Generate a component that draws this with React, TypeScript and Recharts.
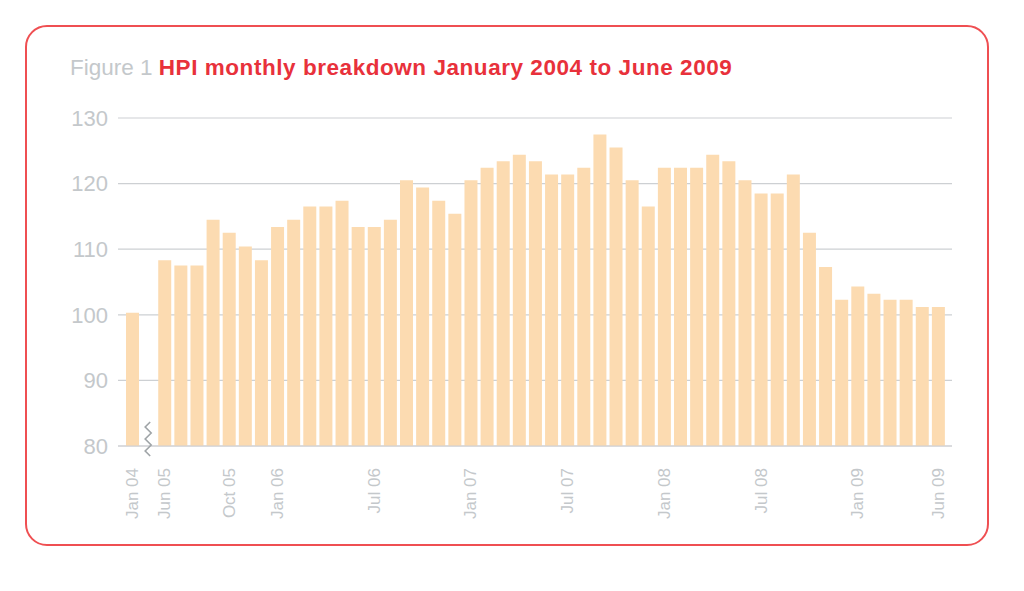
import { BarChart, Bar, CartesianGrid, XAxis, YAxis } from "recharts"

// month labels; the empty slot after Jan 04 is the axis break
const months = [
  "Jan 04", "",
  "Jun 05", "Jul 05", "Aug 05", "Sep 05", "Oct 05", "Nov 05", "Dec 05",
  "Jan 06", "Feb 06", "Mar 06", "Apr 06", "May 06", "Jun 06", "Jul 06", "Aug 06", "Sep 06", "Oct 06", "Nov 06", "Dec 06",
  "Jan 07", "Feb 07", "Mar 07", "Apr 07", "May 07", "Jun 07", "Jul 07", "Aug 07", "Sep 07", "Oct 07", "Nov 07", "Dec 07",
  "Jan 08", "Feb 08", "Mar 08", "Apr 08", "May 08", "Jun 08", "Jul 08", "Aug 08", "Sep 08", "Oct 08", "Nov 08", "Dec 08",
  "Jan 09", "Feb 09", "Mar 09", "Apr 09", "May 09", "Jun 09",
]

const hpi = [
  100.3, null,
  108.3, 107.5, 107.5, 114.5, 112.5, 110.4, 108.3,
  113.4, 114.5, 116.5, 116.5, 117.4, 113.4, 113.4, 114.5, 120.5, 119.4, 117.4, 115.4,
  120.5, 122.4, 123.4, 124.4, 123.4, 121.4, 121.4, 122.4, 127.5, 125.5, 120.5, 116.5,
  122.4, 122.4, 122.4, 124.4, 123.4, 120.5, 118.5, 118.5, 121.4, 112.5, 107.3, 102.3,
  104.3, 103.2, 102.3, 102.3, 101.2, 101.2,
]

const shownLabels = [
  "Jan 04", "Jun 05", "Oct 05", "Jan 06", "Jul 06", "Jan 07",
  "Jul 07", "Jan 08", "Jul 08", "Jan 09", "Jun 09",
]

const yTicks = [80, 90, 100, 110, 120, 130]

const data = months.map((month, i) => ({ month, hpi: hpi[i] }))

const GREY = "#c4c8cb"
const FONT = "'Liberation Sans', Arial, sans-serif"

function MonthTick({ x, y, payload }: any) {
  const value = payload?.value
  if (value === "") {
    // zigzag break marker
    const pts = [
      [x + 2, y - 24], [x - 3, y - 19], [x + 3, y - 13], [x - 3, y - 7],
      [x + 3, y - 1], [x - 3, y + 5], [x + 2, y + 10],
    ]
    return (
      <polyline
        points={pts.map((p) => p.join(",")).join(" ")}
        fill="none"
        stroke="#9fa4a7"
        strokeWidth={1.6}
      />
    )
  }
  if (!shownLabels.includes(value)) return null
  const ty = y + 22
  return (
    <text
      x={x}
      y={ty}
      dy="0.35em"
      transform={`rotate(-90, ${x}, ${ty})`}
      textAnchor="end"
      fill={GREY}
      fontSize={17}
      fontFamily={FONT}
    >
      {value}
    </text>
  )
}

export default function App() {
  return (
    <div
      style={{
        position: "absolute",
        left: 0,
        top: 0,
        width: 1024,
        height: 591,
        background: "#fff",
        fontFamily: FONT,
      }}
    >
      <div
        style={{
          position: "absolute",
          left: 25,
          top: 25,
          width: 964,
          height: 521,
          border: "2px solid #ef4f52",
          borderRadius: 22,
          boxSizing: "border-box",
        }}
      />
      <div
        style={{
          position: "absolute",
          left: 70,
          top: 54,
          fontSize: 22.5,
          lineHeight: "27px",
          whiteSpace: "nowrap",
        }}
      >
        <span style={{ color: GREY }}>Figure 1 </span>
        <span style={{ color: "#e8313b", fontWeight: "bold", letterSpacing: 0.55 }}>
          HPI monthly breakdown January 2004 to June 2009
        </span>
      </div>
      <div style={{ position: "absolute", left: 0, top: 0 }}>
        <BarChart
          width={1024}
          height={591}
          data={data}
          margin={{ top: 118, right: 72, bottom: 65, left: 58 }}
        >
          <CartesianGrid vertical={false} stroke="#cdd0d3" strokeWidth={1.2} />
          <XAxis
            dataKey="month"
            interval={0}
            height={80}
            padding={{ left: 6, right: 6 }}
            tickLine={false}
            tickSize={0}
            tickMargin={0}
            axisLine={{ stroke: "#cdd0d3", strokeWidth: 1.2 }}
            tick={<MonthTick />}
          />
          <YAxis
            domain={[80, 130]}
            ticks={yTicks}
            width={60}
            axisLine={false}
            tickLine={false}
            tickSize={0}
            tickMargin={10}
            tick={{ fill: GREY, fontSize: 22, fontFamily: FONT }}
          />
          <Bar dataKey="hpi" fill="#fcdbb1" barSize={13} isAnimationActive={false} />
        </BarChart>
      </div>
    </div>
  )
}
